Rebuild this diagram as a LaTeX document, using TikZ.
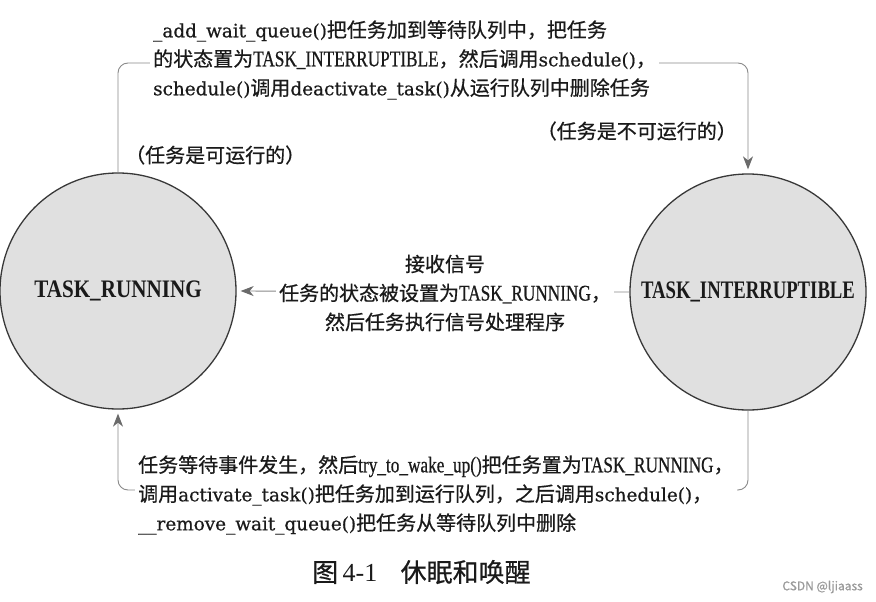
\documentclass[tikz,border=0pt]{standalone}
\usepackage{fontspec}
\usepackage{graphicx}
\setmainfont{DejaVu Serif}[Scale=0.92,FakeBold=0.6]
\newfontfamily\zh{Noto Sans CJK SC}[FakeBold=0.6]
\newfontfamily\capf{Liberation Serif}[Scale=1.12,FakeStretch=0.77,FakeBold=0.6]
\newfontfamily\tms{Liberation Serif}
\usetikzlibrary{arrows.meta}
\newcommand\la[1]{{\rmfamily #1}}
\newcommand\ca[1]{{\capf #1}}
\definecolor{ink}{HTML}{1A1A1A}
\definecolor{conncol}{HTML}{8A8A8A}
\definecolor{tipcol}{HTML}{6A6A6A}
\definecolor{statefill}{HTML}{E0E0E0}
\definecolor{stroke}{HTML}{383838}
\definecolor{wmgray}{HTML}{9A9A9A}
\begin{document}
\begin{tikzpicture}[x=1pt,y=-1pt,
  state/.style={circle, draw=stroke, fill=statefill, line width=1.3pt, minimum size=236pt, inner sep=0pt, text=ink},
  conn/.style={draw=conncol, line width=0.9pt, rounded corners=10pt, shorten >=4pt,
    -{Stealth[length=13pt,width=10pt,inset=4pt,color=tipcol]}},
  txt/.style={font=\zh\fontsize{20}{29}\selectfont, text=ink, fill=white, inner xsep=3pt, inner ysep=4pt},
  lbl/.style={font=\zh\fontsize{20}{24}\selectfont, text=ink, inner sep=4pt}]
\fill[white] (0,0) rectangle (876,602);
\useasboundingbox (0,0) rectangle (876,602);
% states
\node[state] (L) at (118,291) {\scalebox{1.0}[1.05]{\tms\bfseries\fontsize{24}{28}\selectfont\scalebox{0.88}[1]{TASK\_RUNNING}}};
\node[state] (R) at (748,292) {\scalebox{1.0}[1.05]{\tms\bfseries\fontsize{24}{28}\selectfont\scalebox{0.78}[1]{TASK\_INTERRUPTIBLE}}};
% connectors
\coordinate (tc) at (430,63);
\coordinate (bc) at (430,490);
\draw[conn] (L.north) |- (tc) -| (R.north);
\draw[conn] (R.west) -- (L.east);
\draw[conn] (R.south) |- (bc) -| (L.south);
% texts
\node[txt, align=left, anchor=west] (topt) at (150,60)
  {\la{\_add\_wait\_queue()}把任务加到等待队列中，把任务\\
   的状态置为\ca{TASK\_INTERRUPTIBLE}，然后调用\la{schedule()}，\\
   \la{schedule()}调用\la{deactivate\_task()}从运行队列中删除任务};
\node[txt, align=center] (mid) at (445,293)
  {接收信号\\任务的状态被设置为\ca{TASK\_RUNNING}，\\然后任务执行信号处理程序};
\node[txt, align=left, anchor=west] (bott) at (135,495)
  {任务等待事件发生，然后\ca{try\_to\_wake\_up()}把任务置为\ca{TASK\_RUNNING}，\\
   调用\la{activate\_task()}把任务加到运行队列，之后调用\la{schedule()}，\\
   \la{\_\_remove\_wait\_queue()}把任务从等待队列中删除};
\node[lbl, anchor=west] (ok) at (121,155) {（任务是可运行的）};
\node[lbl, anchor=east] (nok) at (741,131) {（任务是不可运行的）};
% caption and watermark
\node[anchor=west, text=ink, font=\zh\fontsize{26}{30}\selectfont] (cap) at (309,572)
  {图\,{\tms 4-1}\hspace{0.9em}休眠和唤醒};
\node[anchor=east, text=wmgray, font=\zh\fontsize{12}{14}\selectfont] (wm) at (866,587) {CSDN @ljiaass};
\end{tikzpicture}
\end{document}
